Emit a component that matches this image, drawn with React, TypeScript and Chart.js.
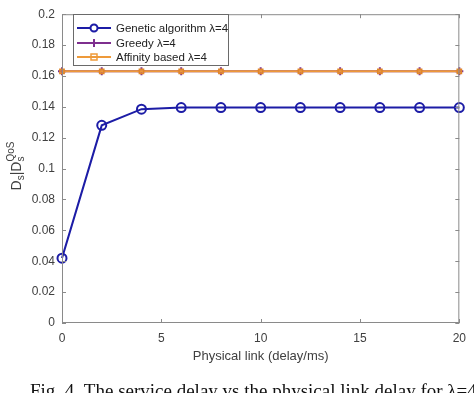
import React, { useEffect, useRef } from "react";
import { Chart, registerables } from "chart.js";

Chart.register(...registerables);

const xValues = [0, 2, 4, 6, 8, 10, 12, 14, 16, 18, 20];
const geneticValues = [0.042, 0.128, 0.1385, 0.1395, 0.1395, 0.1395, 0.1395, 0.1395, 0.1395, 0.1395, 0.1395];
const greedyValues = [0.163, 0.163, 0.163, 0.163, 0.163, 0.163, 0.163, 0.163, 0.163, 0.163, 0.163];
const affinityValues = [0.163, 0.163, 0.163, 0.163, 0.163, 0.163, 0.163, 0.163, 0.163, 0.163, 0.163];
const seriesLabels = ["Genetic algorithm λ=4", "Greedy λ=4", "Affinity based λ=4"];
const xTicks = [0, 5, 10, 15, 20];
const yTicks = [0, 0.02, 0.04, 0.06, 0.08, 0.1, 0.12, 0.14, 0.16, 0.18, 0.2];
const xTitle = "Physical link (delay/ms)";
const caption = "Fig. 4. The service delay vs the physical link delay for λ=4";

const BLUE = "#1c1ca6";
const PURPLE = "#7e2f8e";
const ORANGE = "#ee9a3a";
const AXIS = "#8a8a8a";
const TEXT = "#404040";
const FONT = "Liberation Sans, Arial, sans-serif";

const toPts = (vals: number[]) => vals.map((y, i) => ({ x: xValues[i], y }));

const decorPlugin = {
  id: "decor",
  afterDraw(chart: any) {
    const ctx = chart.ctx as CanvasRenderingContext2D;
    const { left, right, top, bottom } = chart.chartArea;
    const xs = chart.scales.x;
    const ys = chart.scales.y;
    ctx.save();
    ctx.strokeStyle = AXIS;
    ctx.lineWidth = 1;
    ctx.strokeRect(left + 0.5, top + 0.5, right - left - 1, bottom - top - 1);
    ctx.beginPath();
    for (const t of xTicks) {
      const px = Math.round(xs.getPixelForValue(t)) + 0.5;
      ctx.moveTo(px, bottom);
      ctx.lineTo(px, bottom - 4);
      ctx.moveTo(px, top);
      ctx.lineTo(px, top + 4);
    }
    for (const t of yTicks) {
      const py = Math.round(ys.getPixelForValue(t)) + 0.5;
      ctx.moveTo(left, py);
      ctx.lineTo(left + 4, py);
      ctx.moveTo(right, py);
      ctx.lineTo(right - 4, py);
    }
    ctx.stroke();

    // legend
    const lx = 73, ly = 14, lw = 155, lh = 51;
    ctx.fillStyle = "#ffffff";
    ctx.fillRect(lx, ly, lw, lh);
    ctx.strokeStyle = "#6a6a6a";
    ctx.strokeRect(lx + 0.5, ly + 0.5, lw, lh);
    const rows = [28, 43, 57];
    const colors = [BLUE, PURPLE, ORANGE];
    ctx.font = `11.5px ${FONT}`;
    ctx.textBaseline = "middle";
    rows.forEach((ry, i) => {
      ctx.strokeStyle = colors[i];
      ctx.lineWidth = 2;
      ctx.beginPath();
      ctx.moveTo(77, ry);
      ctx.lineTo(111, ry);
      ctx.stroke();
      const mx = 94;
      if (i === 0) {
        ctx.beginPath();
        ctx.arc(mx, ry, 3.5, 0, Math.PI * 2);
        ctx.fillStyle = "#fff";
        ctx.fill();
        ctx.stroke();
      } else if (i === 1) {
        ctx.beginPath();
        ctx.moveTo(mx - 4, ry);
        ctx.lineTo(mx + 4, ry);
        ctx.moveTo(mx, ry - 4);
        ctx.lineTo(mx, ry + 4);
        ctx.stroke();
      } else {
        ctx.lineWidth = 1.5;
        ctx.strokeRect(mx - 3, ry - 3, 6, 6);
      }
      ctx.fillStyle = "#222";
      ctx.fillText(seriesLabels[i], 116, ry + 1);
    });

    // x title
    ctx.fillStyle = TEXT;
    ctx.font = `13px ${FONT}`;
    ctx.textAlign = "center";
    ctx.textBaseline = "middle";
    ctx.fillText(xTitle, (left + right) / 2, 356);

    // y title D_s | D_s^QoS
    ctx.save();
    ctx.translate(21, 166);
    ctx.rotate(-Math.PI / 2);
    ctx.textAlign = "left";
    ctx.textBaseline = "alphabetic";
    const big = `14px ${FONT}`;
    const small = `10px ${FONT}`;
    ctx.font = big;
    const wD = ctx.measureText("D").width;
    const wBar = ctx.measureText("|").width;
    ctx.font = small;
    const ws = ctx.measureText("s").width;
    const wQ = ctx.measureText("QoS").width;
    const total = wD + ws + wBar + wD + Math.max(ws, wQ);
    let u = -total / 2;
    ctx.font = big;
    ctx.fillText("D", u, 0);
    u += wD;
    ctx.font = small;
    ctx.fillText("s", u, 3);
    u += ws;
    ctx.font = big;
    ctx.fillText("|", u, 0);
    u += wBar;
    ctx.fillText("D", u, 0);
    u += wD;
    ctx.font = small;
    ctx.fillText("s", u, 3);
    ctx.fillText("QoS", u, -7);
    ctx.restore();

    // caption
    ctx.fillStyle = "#111";
    ctx.font = `19px "Liberation Serif", "Times New Roman", serif`;
    ctx.textAlign = "left";
    ctx.textBaseline = "alphabetic";
    ctx.fillText(caption, 30, 397);
    ctx.restore();
  },
};

export default function App() {
  const ref = useRef<HTMLCanvasElement | null>(null);
  useEffect(() => {
    document.body.style.margin = "0";
    if (!ref.current) return;
    const chart = new Chart(ref.current, {
      type: "line",
      data: {
        datasets: [
          {
            label: seriesLabels[0],
            data: toPts(geneticValues),
            borderColor: BLUE,
            backgroundColor: "#ffffff",
            borderWidth: 2,
            pointStyle: "circle",
            pointRadius: 4.5,
            pointBorderWidth: 2,
            pointBorderColor: BLUE,
            pointBackgroundColor: "rgba(255,255,255,0)",
            clip: false as any,
            order: 2,
          },
          {
            label: seriesLabels[1],
            data: toPts(greedyValues),
            borderColor: PURPLE,
            borderWidth: 2,
            pointStyle: "cross",
            pointRadius: 4,
            pointBorderWidth: 2,
            pointBorderColor: PURPLE,
            clip: false as any,
            order: 1,
          },
          {
            label: seriesLabels[2],
            data: toPts(affinityValues),
            borderColor: ORANGE,
            borderWidth: 2,
            pointStyle: "rect",
            pointRadius: 3,
            pointBorderWidth: 1.5,
            pointBorderColor: "#e0852a",
            pointBackgroundColor: "rgba(238,154,58,0.6)",
            clip: false as any,
            order: 0,
          },
        ],
      },
      options: {
        animation: false,
        responsive: false,
        layout: { padding: { left: 0, right: 14, top: 10, bottom: 0 } },
        plugins: { legend: { display: false }, tooltip: { enabled: false } },
        scales: {
          x: {
            type: "linear",
            min: 0,
            max: 20,
            afterBuildTicks: (s: any) => {
              s.ticks = xTicks.map((v) => ({ value: v }));
            },
            afterFit: (s: any) => {
              s.height = 70;
            },
            grid: { display: false, drawTicks: false },
            border: { display: false },
            ticks: {
              color: TEXT,
              font: { family: FONT, size: 12 },
              padding: 8,
              maxRotation: 0,
            },
          },
          y: {
            min: 0,
            max: 0.2,
            afterBuildTicks: (s: any) => {
              s.ticks = yTicks.map((v) => ({ value: v }));
            },
            afterFit: (s: any) => {
              s.width = 62;
            },
            grid: { display: false, drawTicks: false },
            border: { display: false },
            ticks: {
              color: TEXT,
              font: { family: FONT, size: 12 },
              padding: 7,
              callback: (v: any) => String(+Number(v).toFixed(2)),
            },
          },
        },
      },
      plugins: [decorPlugin],
    });
    return () => chart.destroy();
  }, []);
  return <canvas ref={ref} width={474} height={393} style={{ display: "block" }} />;
}
